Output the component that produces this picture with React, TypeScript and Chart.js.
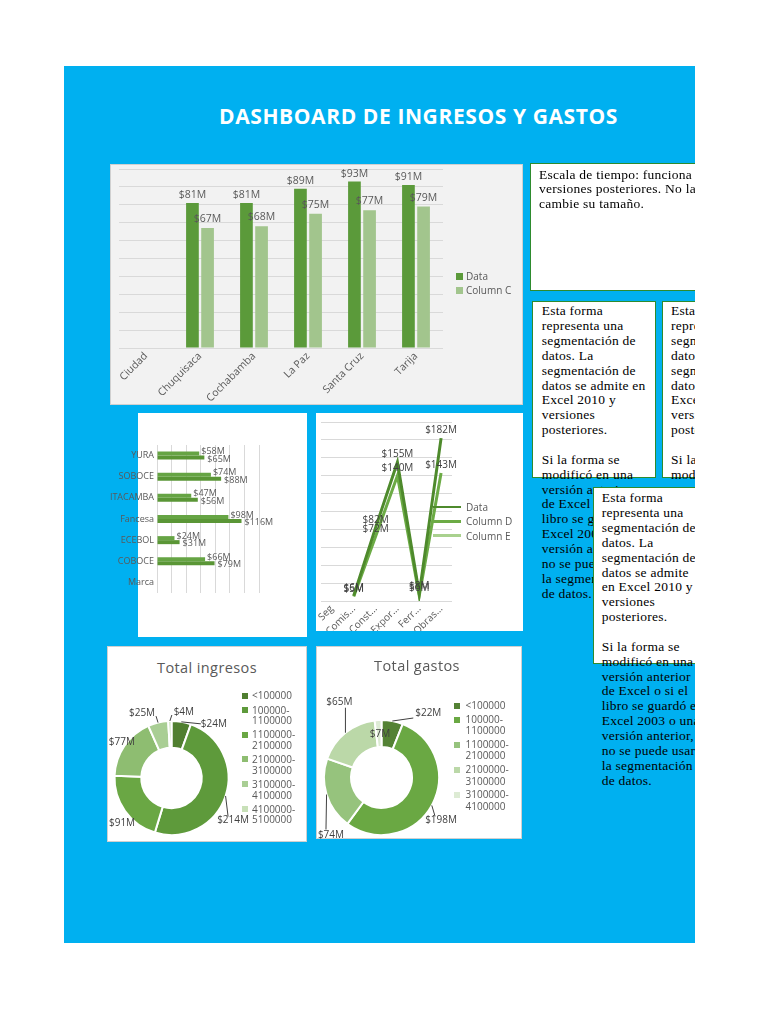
import React, { useEffect, useRef } from "react";
import { Chart, registerables } from "chart.js";

Chart.register(...registerables);

// ---------- data ----------
const cityLabels = ["Ciudad", "Chuquisaca", "Cochabamba", "La Paz", "Santa Cruz", "Tarija"];
const cityData = [null, 81, 81, 89, 93, 91];
const cityColumnC = [null, 67, 68, 75, 77, 79];
const citySeriesNames = ["Data", "Column C"];

const brandLabels = ["YURA", "SOBOCE", "ITACAMBA", "Fancesa", "ECEBOL", "COBOCE", "Marca"];
const brandSeriesA = [58, 74, 47, 98, 24, 66, null];
const brandSeriesB = [65, 88, 56, 116, 31, 79, null];

const sectorLabels = ["Seg", "Comis...", "Const...", "Expor...", "Ferr...", "Obras..."];
const sectorData = [null, 6, 82, 155, 8, 182];
const sectorColumnD = [null, 5, 72, 140, 6, 143];
const sectorColumnE = [null, null, null, null, null, null];
const sectorSeriesNames = ["Data", "Column D", "Column E"];

const incomeRanges = ["<100000", "100000-1100000", "1100000-2100000", "2100000-3100000", "3100000-4100000", "4100000-5100000"];
const incomeValues = [24, 214, 91, 77, 25, 4];
const expenseRanges = ["<100000", "100000-1100000", "1100000-2100000", "2100000-3100000", "3100000-4100000"];
const expenseValues = [22, 198, 74, 65, 7];

// ---------- styles ----------
const FONT = "'Open Sans', 'DejaVu Sans', sans-serif";
const SERIF = "'Liberation Serif', 'Times New Roman', serif";
const TXT = "#595959";
const LBL = "#404040";
const GRID = "#D9D9D9";
const BLUE = "#00B0F0";
const BOX_GREEN = "#2E8B2E";

const cityColors = ["#5B9A3A", "#A2C58D"];
const brandColors = ["#66A444", "#5A9636"];
const sectorColors = ["#4E8A2C", "#6CAB45", "#A9D18E"];
const sectorWidths = [2, 3, 3];
const incomeColors = ["#507F30", "#5E9A3B", "#6AA744", "#8EBD71", "#A9CE94", "#C8E0B8"];
const expenseColors = ["#548235", "#6AA843", "#96C37D", "#BBD8A8", "#DDEBD4"];

const money = (v: number) => `$${v}M`;

// ---------- plugins ----------
function makeValueLabels(id: string, font: string, color: string, align: string, baseline: string, offsets: number[][]) {
  return {
    id,
    afterDatasetsDraw(chart: any) {
      const ctx = chart.ctx;
      ctx.save();
      ctx.font = font;
      ctx.fillStyle = color;
      ctx.textAlign = align;
      ctx.textBaseline = baseline;
      chart.data.datasets.forEach((ds: any, i: number) => {
        const meta = chart.getDatasetMeta(i);
        meta.data.forEach((el: any, j: number) => {
          const v = ds.data[j];
          if (v == null) return;
          const off = offsets[i] || [0, -5];
          ctx.fillText(money(v), el.x + off[0], el.y + off[1]);
        });
      });
      ctx.restore();
    },
  };
}

function makeWhiteBg(id: string, fromX: number) {
  return {
    id,
    beforeDraw(chart: any) {
      const ctx = chart.ctx;
      ctx.save();
      ctx.fillStyle = "#ffffff";
      ctx.fillRect(fromX, 0, chart.width - fromX, chart.height);
      ctx.restore();
    },
  };
}

type Place = { dx: number; dy: number; leader?: number[] };

function makeDonutLabels(id: string, places: Place[]) {
  return {
    id,
    afterDatasetsDraw(chart: any) {
      const ctx = chart.ctx;
      const meta = chart.getDatasetMeta(0);
      const values = chart.data.datasets[0].data;
      ctx.save();
      ctx.font = `10px ${FONT}`;
      ctx.fillStyle = LBL;
      ctx.strokeStyle = "#404040";
      ctx.lineWidth = 1;
      ctx.textAlign = "center";
      ctx.textBaseline = "middle";
      meta.data.forEach((arc: any, i: number) => {
        const p = arc.getProps(["x", "y", "startAngle", "endAngle", "outerRadius"], true);
        const mid = (p.startAngle + p.endAngle) / 2;
        const ax = p.x + Math.cos(mid) * p.outerRadius;
        const ay = p.y + Math.sin(mid) * p.outerRadius;
        const pl = places[i];
        const lx = ax + pl.dx;
        const ly = ay + pl.dy;
        if (pl.leader) {
          ctx.beginPath();
          ctx.moveTo(ax, ay);
          ctx.lineTo(lx + pl.leader[0], ly + pl.leader[1]);
          ctx.stroke();
        }
        ctx.fillText(money(values[i]), lx, ly);
      });
      ctx.restore();
    },
  };
}

const incomePlaces: Place[] = [
  { dx: 32.5, dy: 2, leader: [-13, 0] },
  { dx: 7.5, dy: 24.5, leader: [-5, -4] },
  { dx: -3, dy: 12.5 },
  { dx: -2.5, dy: -3.5 },
  { dx: -16, dy: -9.5, leader: [14, 3] },
  { dx: 14, dy: -9, leader: [-12, 3] },
];

const expensePlaces: Place[] = [
  { dx: 36, dy: -8, leader: [-15, 5] },
  { dx: 9.3, dy: 15, leader: [-6, -4] },
  { dx: 4.4, dy: 41, leader: [-5, -6] },
  { dx: -6, dy: -31, leader: [6, 6] },
  { dx: 2, dy: 14 },
];

// ---------- configs ----------
const cityConfig: any = {
  type: "bar",
  data: {
    labels: cityLabels,
    datasets: [
      { label: citySeriesNames[0], data: cityData, backgroundColor: cityColors[0], categoryPercentage: 0.56, barPercentage: 0.84 },
      { label: citySeriesNames[1], data: cityColumnC, backgroundColor: cityColors[1], categoryPercentage: 0.56, barPercentage: 0.84 },
    ],
  },
  options: {
    responsive: false,
    animation: false,
    layout: { padding: { left: 9, right: 80, top: 5, bottom: 0 } },
    plugins: { legend: { display: false }, tooltip: { enabled: false } },
    scales: {
      x: {
        grid: { display: false, drawTicks: false },
        border: { display: false },
        ticks: { color: TXT, font: { family: FONT, size: 10.5 }, minRotation: 45, maxRotation: 45, autoSkip: false, padding: 2 },
        afterFit: (s: any) => { s.height = 57; },
      },
      y: {
        min: 0,
        max: 100,
        ticks: { display: false, stepSize: 10 },
        grid: { color: GRID, drawTicks: false },
        border: { display: false },
        afterFit: (s: any) => { s.width = 0; },
      },
    },
  },
  plugins: [makeValueLabels("cityLabels", `10.5px ${FONT}`, TXT, "center", "alphabetic", [[0, -5], [0, -6]])],
};

const brandConfig: any = {
  type: "bar",
  data: {
    labels: brandLabels,
    datasets: [
      { label: "A", data: brandSeriesA, backgroundColor: brandColors[0], categoryPercentage: 0.38, barPercentage: 1 },
      { label: "B", data: brandSeriesB, backgroundColor: brandColors[1], categoryPercentage: 0.38, barPercentage: 1 },
    ],
  },
  options: {
    indexAxis: "y",
    responsive: false,
    animation: false,
    layout: { padding: { left: 0, right: 48, top: 32, bottom: 44 } },
    plugins: { legend: { display: false }, tooltip: { enabled: false } },
    scales: {
      x: {
        min: 0,
        max: 140,
        ticks: { display: false, stepSize: 20 },
        grid: { color: GRID, drawTicks: false },
        border: { display: false },
        afterFit: (s: any) => { s.height = 0; },
      },
      y: {
        grid: { display: false, drawTicks: false },
        border: { display: false },
        ticks: { color: TXT, font: { family: FONT, size: 9 }, padding: 3, autoSkip: false },
        afterFit: (s: any) => { s.width = 53; },
      },
    },
  },
  plugins: [
    makeWhiteBg("brandBg", 34),
    makeValueLabels("brandLabels", `9px ${FONT}`, TXT, "left", "middle", [[2, -2], [3, 1.5]]),
  ],
};

const sectorConfig: any = {
  type: "line",
  data: {
    labels: sectorLabels,
    datasets: [
      { label: sectorSeriesNames[0], data: sectorData, borderColor: sectorColors[0], borderWidth: 3, pointRadius: 0, tension: 0 },
      { label: sectorSeriesNames[1], data: sectorColumnD, borderColor: sectorColors[1], borderWidth: 3, pointRadius: 0, tension: 0 },
      { label: sectorSeriesNames[2], data: sectorColumnE, borderColor: sectorColors[2], borderWidth: 3, pointRadius: 0, tension: 0 },
    ],
  },
  options: {
    responsive: false,
    animation: false,
    layout: { padding: { left: 5, right: 71, top: 9, bottom: 0 } },
    plugins: { legend: { display: false }, tooltip: { enabled: false } },
    scales: {
      x: {
        offset: true,
        grid: { display: false, drawTicks: false },
        border: { display: false },
        ticks: { color: TXT, font: { family: FONT, size: 10 }, minRotation: 45, maxRotation: 45, autoSkip: false, padding: 2 },
        afterFit: (s: any) => { s.height = 30; },
      },
      y: {
        min: 0,
        max: 200,
        ticks: { display: false, stepSize: 20 },
        grid: { color: GRID, drawTicks: false },
        border: { display: false },
        afterFit: (s: any) => { s.width = 0; },
      },
    },
  },
  plugins: [makeValueLabels("sectorLabels", `10px ${FONT}`, LBL, "center", "alphabetic", [[0, -5], [0, -5], [0, -5]])],
};

const incomeConfig: any = {
  type: "doughnut",
  data: {
    labels: incomeRanges,
    datasets: [{ data: incomeValues, backgroundColor: incomeColors, borderColor: "#ffffff", borderWidth: 2 }],
  },
  options: {
    responsive: false,
    animation: false,
    cutout: "53%",
    layout: { padding: { left: 6.5, right: 77.5, top: 74, bottom: 6 } },
    plugins: { legend: { display: false }, tooltip: { enabled: false } },
  },
  plugins: [makeDonutLabels("incomeLabels", incomePlaces)],
};

const expenseConfig: any = {
  type: "doughnut",
  data: {
    labels: expenseRanges,
    datasets: [{ data: expenseValues, backgroundColor: expenseColors, borderColor: "#ffffff", borderWidth: 2 }],
  },
  options: {
    responsive: false,
    animation: false,
    cutout: "53%",
    layout: { padding: { left: 7, right: 82, top: 73, bottom: 3 } },
    plugins: { legend: { display: false }, tooltip: { enabled: false } },
  },
  plugins: [makeDonutLabels("expenseLabels", expensePlaces)],
};

// ---------- text boxes ----------
const timelineText = [
  "Escala de tiempo: funciona en Excel 2013 o",
  "versiones posteriores. No la mueva ni",
  "cambie su tamaño.",
];
const slicerTextWide = [
  "Esta forma",
  "representa una",
  "segmentación de",
  "datos. La",
  "segmentación de",
  "datos se admite en",
  "Excel 2010 y",
  "versiones",
  "posteriores.",
  "",
  "Si la forma se",
  "modificó en una",
  "versión anterior",
  "de Excel o si el",
  "libro se guardó en",
  "Excel 2003 o una",
  "versión anterior,",
  "no se puede usar",
  "la segmentación",
  "de datos.",
];
const slicerTextNarrow = [
  "Esta forma",
  "representa una",
  "segmentación de",
  "datos. La",
  "segmentación de",
  "datos se admite",
  "en Excel 2010 y",
  "versiones",
  "posteriores.",
  "",
  "Si la forma se",
  "modificó en una",
  "versión anterior",
  "de Excel o si el",
  "libro se guardó en",
  "Excel 2003 o una",
  "versión anterior,",
  "no se puede usar",
  "la segmentación",
  "de datos.",
];

// ---------- components ----------
function ChartCanvas({ left, top, width, height, config }: any) {
  const ref = useRef<HTMLCanvasElement | null>(null);
  useEffect(() => {
    if (!ref.current) return;
    const chart = new Chart(ref.current, config);
    return () => chart.destroy();
  }, []);
  return (
    <canvas
      ref={ref}
      width={width}
      height={height}
      style={{ position: "absolute", left, top, width, height, display: "block" }}
    />
  );
}

function TextBox({ left, top, width, height, lines, padLeft, padTop }: any) {
  return (
    <div
      style={{
        position: "absolute",
        left,
        top,
        width,
        height,
        boxSizing: "border-box",
        border: `1px solid ${BOX_GREEN}`,
        background: "#ffffff",
        paddingLeft: padLeft,
        paddingTop: padTop,
        fontFamily: SERIF,
        fontSize: 13.5,
        lineHeight: "14.86px",
        letterSpacing: "0.25px",
        color: "#000000",
        whiteSpace: "pre",
        overflow: "visible",
      }}
    >
      {lines.join("\n")}
    </div>
  );
}

function SeriesLegend({ left, top, names, colors, kind, pitch, lineWidths }: any) {
  return (
    <div
      style={{
        position: "absolute",
        left,
        top,
        fontFamily: FONT,
        fontSize: 10,
        color: TXT,
        lineHeight: `${pitch}px`,
        whiteSpace: "nowrap",
      }}
    >
      {names.map((n: string, i: number) => (
        <div key={i} style={{ position: "relative", paddingLeft: kind === "box" ? 10 : 33 }}>
          {kind === "box" ? (
            <span style={{ position: "absolute", left: 0, top: (pitch - 7) / 2, width: 7, height: 7, background: colors[i] }} />
          ) : (
            <span
              style={{
                position: "absolute",
                left: 0,
                top: (pitch - lineWidths[i]) / 2,
                width: 28,
                height: lineWidths[i],
                background: colors[i],
              }}
            />
          )}
          {n}
        </div>
      ))}
    </div>
  );
}

function RangeLegend({ left, top, items, colors, lineHeight, gap, indent }: any) {
  return (
    <div
      style={{
        position: "absolute",
        left,
        top,
        fontFamily: FONT,
        fontSize: 10,
        color: TXT,
        lineHeight: `${lineHeight}px`,
        whiteSpace: "nowrap",
      }}
    >
      {items.map((it: string, i: number) => {
        const k = it.indexOf("-");
        const parts = k > 0 ? [it.slice(0, k + 1), it.slice(k + 1)] : [it];
        return (
          <div key={i} style={{ position: "relative", paddingLeft: indent, marginBottom: gap }}>
            <span
              style={{ position: "absolute", left: 0, top: (lineHeight - 6) / 2, width: 6, height: 6, background: colors[i] }}
            />
            {parts.map((p, j) => (
              <div key={j}>{p}</div>
            ))}
          </div>
        );
      })}
    </div>
  );
}

export default function App() {
  return (
    <div style={{ position: "absolute", left: 0, top: 0, width: 695, height: 1024, overflow: "hidden" }}>
      <div style={{ position: "absolute", left: 64, top: 66, width: 631, height: 877, background: BLUE }} />

      <div
        style={{
          position: "absolute",
          left: 118.5,
          top: 104,
          width: 600,
          textAlign: "center",
          fontFamily: FONT,
          fontWeight: 700,
          fontSize: 21,
          lineHeight: "24px",
          letterSpacing: "0.6px",
          color: "#ffffff",
          whiteSpace: "nowrap",
        }}
      >
        DASHBOARD DE INGRESOS Y GASTOS
      </div>

      {/* Column chart */}
      <div
        style={{
          position: "absolute",
          left: 110,
          top: 164,
          width: 413,
          height: 241,
          boxSizing: "border-box",
          background: "#F2F2F2",
          border: "1px solid #D0D0D0",
        }}
      />
      <ChartCanvas left={110} top={164} width={413} height={241} config={cityConfig} />
      <SeriesLegend left={456} top={269} names={citySeriesNames} colors={cityColors} kind="box" pitch={14.4} />

      {/* Horizontal bar chart */}
      <ChartCanvas left={104} top={413} width={203} height={224} config={brandConfig} />

      {/* Line chart */}
      <div style={{ position: "absolute", left: 316, top: 413, width: 207, height: 218, background: "#ffffff" }} />
      <ChartCanvas left={316} top={413} width={207} height={218} config={sectorConfig} />
      <SeriesLegend
        left={433}
        top={500.2}
        names={sectorSeriesNames}
        colors={sectorColors}
        kind="line"
        pitch={14.2}
        lineWidths={sectorWidths}
      />

      {/* Donut: Total ingresos */}
      <div
        style={{
          position: "absolute",
          left: 107,
          top: 646,
          width: 200,
          height: 196,
          boxSizing: "border-box",
          background: "#ffffff",
          border: "1px solid #D0D0D0",
        }}
      />
      <div
        style={{
          position: "absolute",
          left: 107,
          top: 659.7,
          width: 200,
          textAlign: "center",
          fontFamily: FONT,
          fontSize: 14.5,
          lineHeight: "16px",
          letterSpacing: "0.4px",
          color: TXT,
        }}
      >
        Total ingresos
      </div>
      <ChartCanvas left={107} top={646} width={200} height={196} config={incomeConfig} />
      <RangeLegend left={242} top={690.4} items={incomeRanges} colors={incomeColors} lineHeight={10.6} gap={3.6} indent={10} />

      {/* Donut: Total gastos */}
      <div
        style={{
          position: "absolute",
          left: 316,
          top: 646,
          width: 206,
          height: 193,
          boxSizing: "border-box",
          background: "#ffffff",
          border: "1px solid #D0D0D0",
        }}
      />
      <div
        style={{
          position: "absolute",
          left: 316,
          top: 658.4,
          width: 202,
          textAlign: "center",
          fontFamily: FONT,
          fontSize: 14.5,
          lineHeight: "16px",
          letterSpacing: "0.4px",
          color: TXT,
        }}
      >
        Total gastos
      </div>
      <ChartCanvas left={316} top={646} width={206} height={193} config={expenseConfig} />
      <RangeLegend left={453.5} top={700} items={expenseRanges} colors={expenseColors} lineHeight={11.3} gap={2.6} indent={12} />

      {/* Text boxes */}
      <TextBox left={530} top={163} width={200} height={128} lines={timelineText} padLeft={8} padTop={3.6} />
      <TextBox left={532} top={300.5} width={123.5} height={177} lines={slicerTextWide} padLeft={8.7} padTop={2.8} />
      <TextBox left={661.5} top={300.5} width={123.5} height={177} lines={slicerTextWide} padLeft={8.5} padTop={2.8} />
      <TextBox left={592.5} top={487} width={123.5} height={177} lines={slicerTextNarrow} padLeft={8.2} padTop={3.3} />
    </div>
  );
}
